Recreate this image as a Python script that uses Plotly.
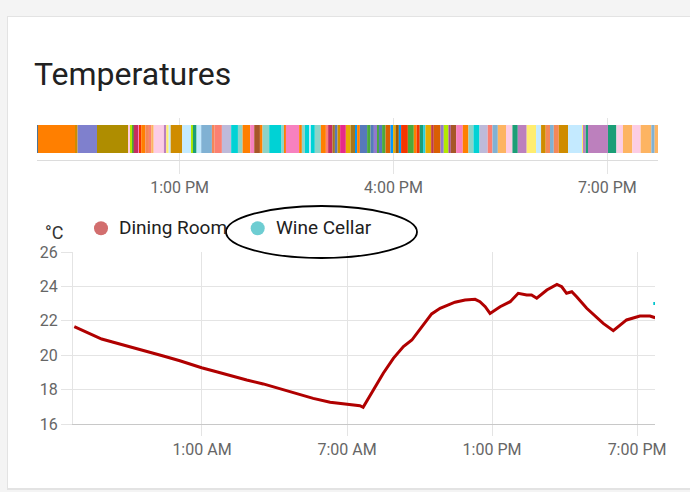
import plotly.graph_objects as go
from datetime import datetime, timedelta

# ---------------- data ----------------
TITLE = "Temperatures"

timeline_start = "2019-05-02 11:00"
timeline_end_min = [
    0.8, 32.6, 34.2, 50.5, 77.4, 78.8, 80.2, 81.3, 85.2, 86.6, 87.7, 91.1, 94.2, 96.1, 98.2,
    106.8, 108.8, 110.8, 112.5, 122.2, 129.8, 131.2, 134.3, 138.2, 147.2, 149.5, 155.6, 163.4,
    169.1, 173.0, 179.4, 182.8, 187.6, 189.8, 195.4, 205.8, 208.0, 209.4, 220.6, 222.9, 225.4,
    229.0, 230.5, 233.8, 238.9, 243.1, 245.0, 248.7, 250.7, 252.9, 255.1, 259.9, 263.9, 268.1,
    269.4, 271.7, 277.8, 280.7, 283.5, 286.2, 287.7, 290.4, 293.3, 297.5, 299.7, 301.7, 304.5,
    306.4, 312.1, 317.1, 319.4, 322.1, 324.9, 326.9, 331.7, 333.9, 339.6, 342.3, 346.3, 348.2,
    352.7, 358.3, 363.1, 367.3, 372.4, 379.3, 383.3, 387.8, 394.7, 400.1, 404.6, 412.1, 420.0,
    424.2, 428.1, 431.7, 434.9, 439.1, 446.9, 458.7, 460.3, 461.8, 463.7, 480.5, 487.6, 493.1,
    501.0, 508.0, 517.0, 519.8, 522.6,
]
timeline_state = [
    0, 3, 19, 5, 4, 48, 6, 28, 7, 9, 27, 3, 34, 12, 14,
    15, 16, 17, 18, 19, 18, 6, 20, 18, 13, 34, 12, 11,
    2, 10, 3, 9, 8, 3, 10, 2, 10, 3, 9, 3, 10,
    2, 18, 2, 10, 3, 12, 7, 24, 29, 19, 22, 23, 24,
    25, 3, 29, 28, 29, 30, 28, 29, 28, 21, 25, 23, 33,
    25, 27, 28, 3, 27, 20, 55, 23, 32, 21, 30, 6, 56,
    8, 9, 3, 10, 2, 11, 12, 13, 14, 15, 20, 16, 17,
    18, 19, 34, 13, 34, 19, 18, 17, 16, 20, 16, 20, 15,
    14, 15, 14, 13, 14,
]
timeline_ticks = ["2019-05-02 13:00", "2019-05-02 16:00", "2019-05-02 19:00"]
timeline_tick_labels = ["1:00 PM", "4:00 PM", "7:00 PM"]

dining_times = [
    "2019-05-01 19:43", "2019-05-01 20:18", "2019-05-01 20:51", "2019-05-01 21:20",
    "2019-05-01 22:01", "2019-05-01 22:43", "2019-05-01 23:24", "2019-05-02 00:05",
    "2019-05-02 00:59", "2019-05-02 01:36", "2019-05-02 02:10", "2019-05-02 02:51",
    "2019-05-02 03:32", "2019-05-02 04:14", "2019-05-02 04:55", "2019-05-02 05:36",
    "2019-05-02 06:18", "2019-05-02 06:59", "2019-05-02 07:32", "2019-05-02 07:40",
    "2019-05-02 08:05", "2019-05-02 08:30", "2019-05-02 08:55", "2019-05-02 09:20",
    "2019-05-02 09:41", "2019-05-02 09:57", "2019-05-02 10:14", "2019-05-02 10:30",
    "2019-05-02 10:51", "2019-05-02 11:16", "2019-05-02 11:28", "2019-05-02 11:53",
    "2019-05-02 12:18", "2019-05-02 12:30", "2019-05-02 12:43", "2019-05-02 12:55",
    "2019-05-02 13:20", "2019-05-02 13:45", "2019-05-02 14:05", "2019-05-02 14:26",
    "2019-05-02 14:38", "2019-05-02 14:51", "2019-05-02 15:16", "2019-05-02 15:41",
    "2019-05-02 15:53", "2019-05-02 16:05", "2019-05-02 16:18", "2019-05-02 16:30",
    "2019-05-02 16:55", "2019-05-02 17:36", "2019-05-02 18:01", "2019-05-02 18:34",
    "2019-05-02 19:07", "2019-05-02 19:32", "2019-05-02 19:45",
]
dining_temps = [
    21.66, 21.27, 20.94, 20.75,
    20.50, 20.24, 19.95, 19.68,
    19.27, 19.04, 18.81, 18.56,
    18.33, 18.03, 17.78, 17.49,
    17.26, 17.14, 17.06, 16.97,
    17.98, 18.95, 19.82, 20.50,
    20.88, 21.37, 21.95, 22.40,
    22.73, 22.96, 23.08, 23.21,
    23.25, 23.11, 22.82, 22.43,
    22.82, 23.11, 23.60, 23.50,
    23.50, 23.31, 23.79, 24.12,
    23.98, 23.60, 23.69, 23.40,
    22.73, 21.85, 21.43, 22.05,
    22.28, 22.28, 22.18,
]
wine_times = ["2019-05-02 19:44"]
wine_temps = [23.0]

series_names = ["Dining Room", "Wine Cellar"]
unit_label = "°C"
temp_ticks = [16, 18, 20, 22, 24, 26]
time_ticks = ["2019-05-02 01:00", "2019-05-02 07:00", "2019-05-02 13:00", "2019-05-02 19:00"]
time_tick_labels = ["1:00 AM", "7:00 AM", "1:00 PM", "7:00 PM"]

# ---------------- styling ----------------
W, H = 690, 492
PALETTE = [
    "#44739e", "#984ea3", "#00d2d5", "#ff7f00", "#af8d00", "#7f80cd", "#b3e900", "#c42e60",
    "#a65628", "#f781bf", "#8dd3c7", "#bebada", "#fb8072", "#80b1d3", "#fdb462", "#fccde5",
    "#bc80bd", "#ffed6f", "#c4eaff", "#cf8c00", "#1b9e77", "#d95f02", "#e7298a", "#e6ab02",
    "#a6761d", "#0097ff", "#00d067", "#f43600", "#4ba93b", "#5779bb", "#927acc", "#97ee3f",
    "#bf3947", "#9f5b00", "#f48758", "#8caed6", "#f2b94f", "#eff26e", "#e43872", "#d9b100",
    "#9d7a00", "#698cff", "#d9d9d9", "#00d27e", "#d06800", "#009f82", "#c49200", "#cbe8ff",
    "#fecddf", "#c27eb6", "#8cd2ce", "#c4b8d9", "#f883b0", "#a49100", "#f48800", "#27d0df",
    "#a04a9b",
]
LINE_COLORS = ["#b00000", "#00c4cc"]
DOT_COLORS = ["#d26e6e", "#6ecdd2"]
FONT = "Roboto"
TICK_COLOR = "#666666"
GRID = "#e4e4e4"


def fx(x):
    return x / W


def fy(y):
    return 1 - y / H


fmt = "%Y-%m-%d %H:%M"
t0 = datetime.strptime(timeline_start, fmt)
starts = [0.0] + timeline_end_min[:-1]
bases = [(t0 + timedelta(minutes=s)).strftime("%Y-%m-%d %H:%M:%S") for s in starts]
durations = [(e - s) * 60000.0 for s, e in zip(starts, timeline_end_min)]
colors = [PALETTE[i] for i in timeline_state]

fig = go.Figure()

fig.add_trace(go.Bar(
    x=durations, base=bases, y=[0] * len(durations), orientation="h",
    marker=dict(color=colors, line=dict(width=0)), width=1,
    xaxis="x2", yaxis="y2", showlegend=False, hoverinfo="skip",
))

fig.add_trace(go.Scatter(
    x=dining_times, y=dining_temps, mode="lines", name=series_names[0],
    line=dict(color=LINE_COLORS[0], width=3), showlegend=False,
))
fig.add_trace(go.Scatter(
    x=wine_times, y=wine_temps, mode="markers", name=series_names[1],
    marker=dict(color=LINE_COLORS[1], size=3, symbol="square"), showlegend=False,
))

tl_end = t0 + timedelta(minutes=timeline_end_min[-1])
fig.update_layout(
    width=W, height=H,
    margin=dict(l=0, r=0, t=0, b=0, autoexpand=False),
    paper_bgcolor="#f4f4f4",
    plot_bgcolor="rgba(0,0,0,0)",
    font=dict(family=FONT, color=TICK_COLOR, size=16),
    showlegend=False,
    xaxis=dict(
        domain=[fx(73), fx(655)], type="date", automargin=False,
        range=["2019-05-01 19:39:48", "2019-05-02 19:44:30"],
        tickvals=time_ticks, ticktext=time_tick_labels,
        showgrid=True, gridcolor=GRID, gridwidth=1,
        ticks="outside", ticklen=11, tickcolor=GRID,
        showline=True, linecolor="#c8c8c8", linewidth=1,
        zeroline=False, tickfont=dict(size=16, color=TICK_COLOR),
        anchor="y",
    ),
    yaxis=dict(
        domain=[fy(424), fy(252)], range=[16, 26], automargin=False,
        tickvals=temp_ticks, showgrid=True, gridcolor=GRID, gridwidth=1,
        ticks="outside", ticklen=11, tickcolor=GRID,
        showline=True, linecolor=GRID, linewidth=1, zeroline=False,
        tickfont=dict(size=16, color=TICK_COLOR), anchor="x",
    ),
    xaxis2=dict(
        domain=[fx(37), fx(658)], type="date", automargin=False,
        range=[t0.strftime("%Y-%m-%d %H:%M:%S"), tl_end.strftime("%Y-%m-%d %H:%M:%S")],
        tickvals=timeline_ticks, ticktext=timeline_tick_labels,
        showgrid=True, gridcolor=GRID, gridwidth=1,
        ticks="outside", ticklen=13, tickcolor=GRID,
        showline=True, linecolor="#dcdcdc", linewidth=1, zeroline=False,
        tickfont=dict(size=16, color=TICK_COLOR), anchor="y2",
    ),
    yaxis2=dict(
        domain=[fy(160), fy(118)], range=[-0.75, 0.75], automargin=False,
        visible=False, anchor="x2", fixedrange=True,
    ),
)

shapes = [
    dict(type="rect", xref="paper", yref="paper", x0=fx(7), x1=fx(700), y0=fy(490), y1=fy(16),
         fillcolor="#e3e3e3", line=dict(width=0), layer="below"),
    dict(type="rect", xref="paper", yref="paper", x0=fx(8), x1=fx(700), y0=fy(488), y1=fy(17),
         fillcolor="#ffffff", line=dict(width=0), layer="below"),
    dict(type="circle", xref="paper", yref="paper", x0=fx(94), x1=fx(108), y0=fy(235.3), y1=fy(221.3),
         fillcolor=DOT_COLORS[0], line=dict(width=0)),
    dict(type="circle", xref="paper", yref="paper", x0=fx(250.7), x1=fx(264.7), y0=fy(235.3), y1=fy(221.3),
         fillcolor=DOT_COLORS[1], line=dict(width=0)),
    dict(type="circle", xref="paper", yref="paper", x0=fx(226), x1=fx(417), y0=fy(258), y1=fy(206),
         line=dict(color="#000000", width=1.8), fillcolor="rgba(0,0,0,0)"),
]

annotations = [
    dict(text=TITLE, x=fx(32), y=fy(74), xref="paper", yref="paper", xanchor="left", yanchor="middle",
         showarrow=False, font=dict(family=FONT, size=32, color="#212121")),
    dict(text=series_names[0], x=fx(117), y=fy(228), xref="paper", yref="paper", xanchor="left",
         yanchor="middle", showarrow=False, font=dict(family=FONT, size=19, color="#212121")),
    dict(text=series_names[1], x=fx(274), y=fy(228), xref="paper", yref="paper", xanchor="left",
         yanchor="middle", showarrow=False, font=dict(family=FONT, size=19, color="#212121")),
    dict(text=unit_label, x=fx(53.5), y=fy(232), xref="paper", yref="paper", xanchor="center",
         yanchor="middle", showarrow=False, font=dict(family=FONT, size=18, color="#333333")),
]

fig.update_layout(shapes=shapes, annotations=annotations)

fig.write_html("out.html", config={"displayModeBar": False},
               post_script="document.body.style.margin='0';")
